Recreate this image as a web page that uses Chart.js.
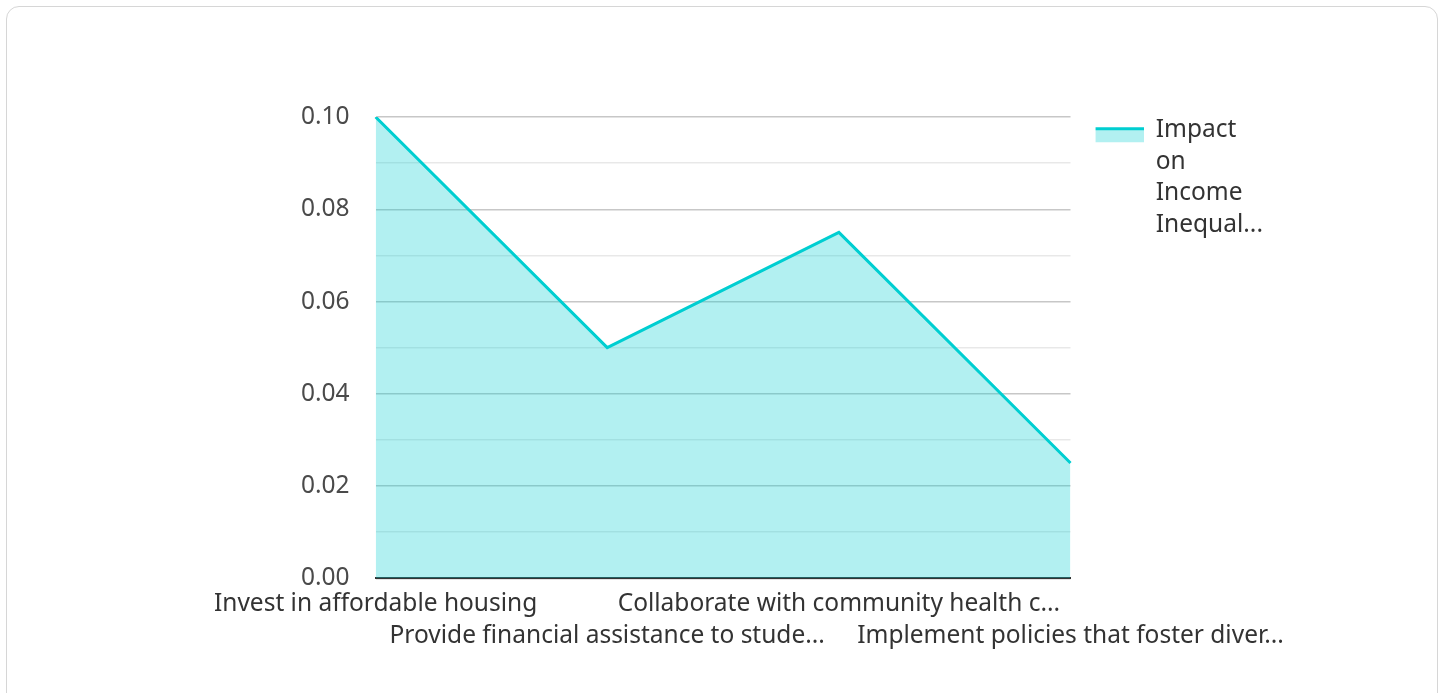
<!DOCTYPE html>
<html>
<head>
<meta charset="utf-8">
<script src="https://cdn.jsdelivr.net/npm/chart.js@4.4.1/dist/chart.umd.min.js"></script>
<style>
  html, body { margin: 0; padding: 0; background: #ffffff; overflow: hidden; }
  #card { position: absolute; left: 6px; top: 6px; width: 1432px; height: 720px; border: 1.5px solid #d6d6d6; border-radius: 13px; box-sizing: border-box; background: #fff; }
  #wrap { position: absolute; left: 0; top: 0; width: 1444px; height: 693px; }
</style>
</head>
<body>
<div id="card"></div>
<div id="wrap"><canvas id="c"></canvas></div>
<script>
const categories = [
  "Invest in affordable housing",
  "Provide financial assistance to stude...",
  "Collaborate with community health c...",
  "Implement policies that foster diver..."
];
const seriesName = ["Impact", "on", "Income", "Inequal..."];
const impactValues = [0.10, 0.05, 0.075, 0.025];
const yTicks = [0, 0.02, 0.04, 0.06, 0.08, 0.10];

const TEAL = "rgb(0,206,209)";
const TEAL_FILL = "rgba(0,206,209,0.3)";
const FONT = "'Noto Sans', sans-serif";
const FS = 24.5;

// legend swatch image: transparent gap on the left/top, line on top, fill below
const GAP = 24;
const TOPGAP = 12;
const sw = document.createElement("canvas");
sw.width = 48 + GAP; sw.height = 30;
const sctx = sw.getContext("2d");
sctx.fillStyle = TEAL_FILL; sctx.fillRect(GAP, TOPGAP, 48, 15);
sctx.fillStyle = TEAL; sctx.fillRect(GAP, TOPGAP, 48, 3);

new Chart(document.getElementById("c"), {
  type: "line",
  data: {
    labels: categories,
    datasets: [{
      label: seriesName,
      data: impactValues,
      borderColor: TEAL,
      backgroundColor: TEAL_FILL,
      borderWidth: 3,
      fill: "origin",
      tension: 0,
      pointRadius: 0,
      pointHoverRadius: 0
    }]
  },
  options: {
    responsive: true,
    maintainAspectRatio: false,
    animation: false,
    layout: { padding: { left: 275, right: 171, top: 117, bottom: 31 } },
    plugins: {
      tooltip: { enabled: false },
      legend: {
        position: "right",
        align: "start",
        labels: {
          usePointStyle: true,
          pointStyleWidth: 48 + GAP,
          padding: 1,
          color: "#333333",
          font: { family: FONT, size: FS, lineHeight: 1.29 },
          generateLabels: (chart) => [{
            text: seriesName,
            pointStyle: sw,
            fillStyle: TEAL_FILL,
            strokeStyle: TEAL,
            lineWidth: 0,
            fontColor: "#333333",
            datasetIndex: 0
          }]
        }
      }
    },
    scales: {
      x: {
        offset: false,
        grid: { display: false, drawTicks: false },
        border: { display: true, color: "#333333", width: 2 },
        ticks: {
          autoSkip: false,
          maxRotation: 0,
          minRotation: 0,
          padding: 10,
          color: "#333333",
          font: { family: FONT, size: FS, lineHeight: 1.3 },
          callback: function(value, index) {
            const lbl = categories[index];
            return index % 2 === 1 ? ["", lbl] : lbl;
          }
        }
      },
      y: {
        min: 0,
        max: 0.1,
        border: { display: false },
        grid: {
          drawTicks: false,
          color: (ctx) => {
            const v = Math.round(ctx.tick.value * 100);
            return v % 2 === 0 ? "rgba(0,0,0,0.22)" : "rgba(0,0,0,0.09)";
          },
          lineWidth: 1.5
        },
        ticks: {
          stepSize: 0.01,
          padding: 26,
          color: "#4a4a4a",
          font: { family: FONT, size: FS, lineHeight: 1.2 },
          callback: function(value) {
            const v = Math.round(value * 100);
            if (v % 2 !== 0) return "";
            const hit = yTicks.find(t => Math.abs(t - value) < 1e-9);
            return hit !== undefined ? hit.toFixed(2) : "";
          }
        }
      }
    }
  }
});
</script>
</body>
</html>
